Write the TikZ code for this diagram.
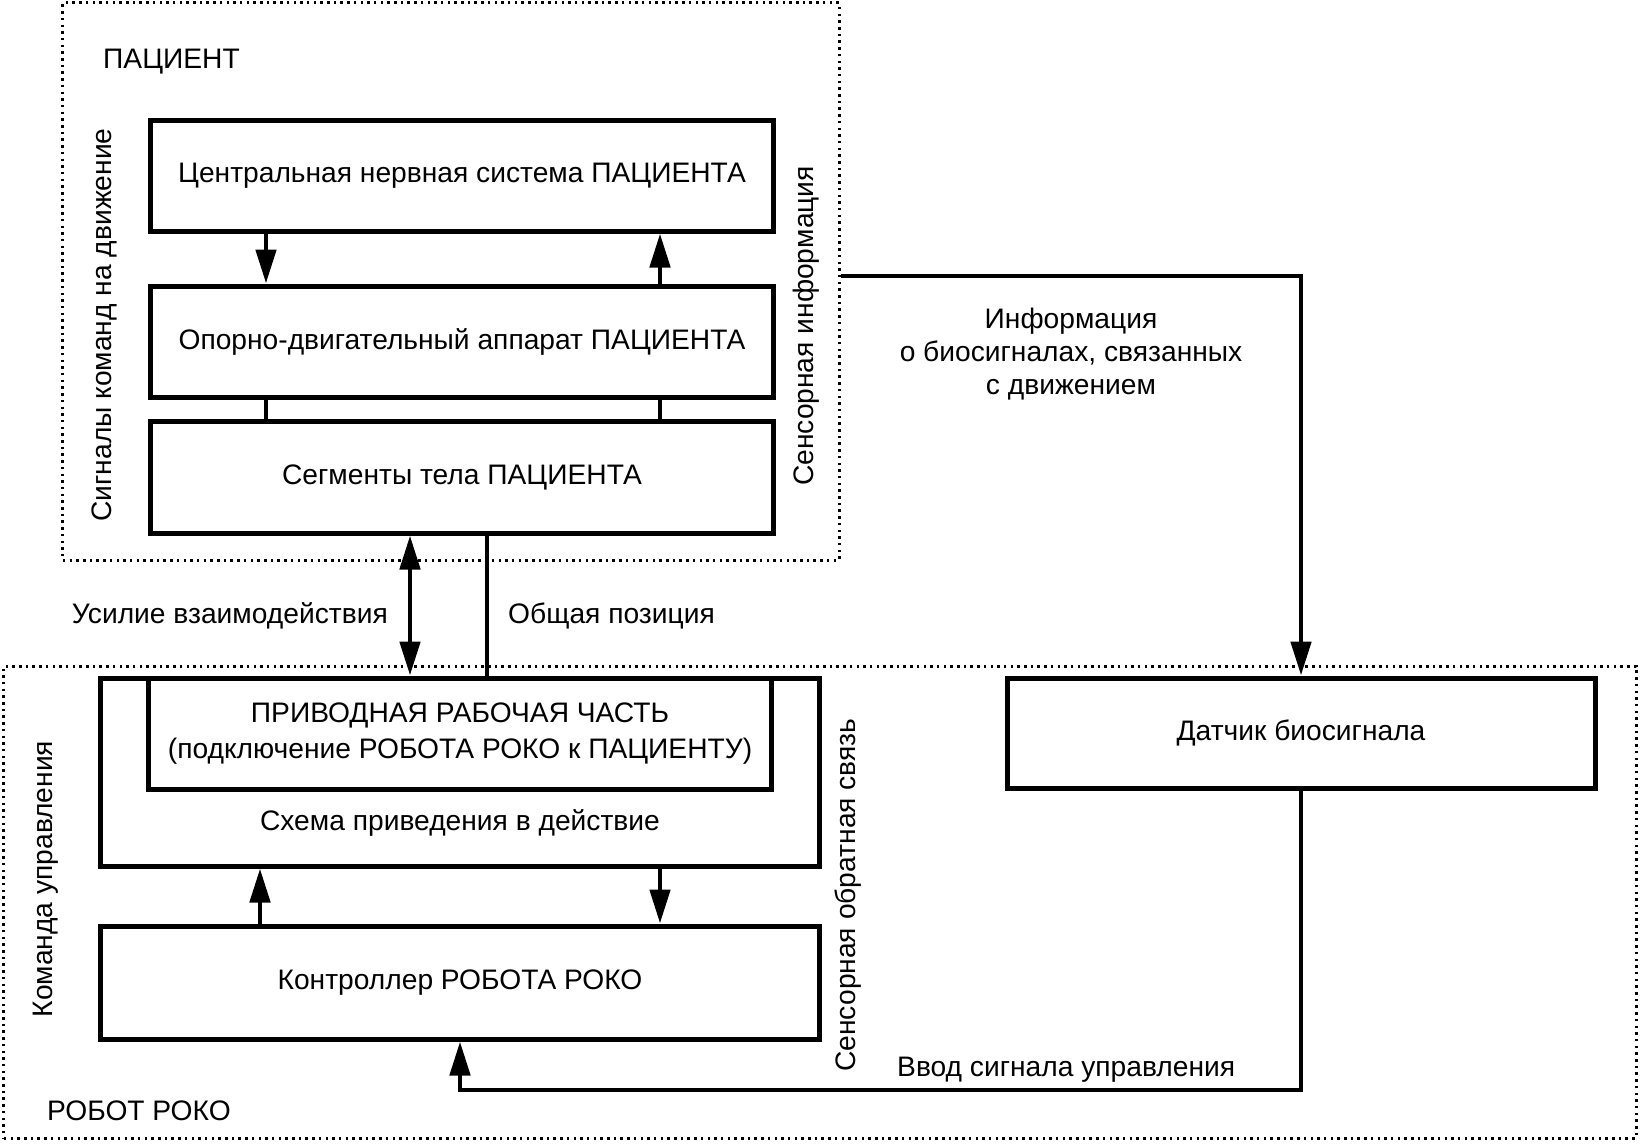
\documentclass[tikz,border=0pt]{standalone}
\usepackage{fontspec}
\setmainfont{Liberation Sans}
\usetikzlibrary{arrows.meta}
\begin{document}
\begin{tikzpicture}[x=1bp,y=-1bp,
  every node/.style={font=\fontsize{28.3}{33}\selectfont, inner sep=0pt},
  box/.style={draw, line width=5bp, rectangle},
  dotbox/.style={draw, line width=3bp, dash pattern=on 2.5bp off 4.2bp, rectangle},
  conn/.style={line width=4.8bp},
  arr/.style={conn, -{Triangle[length=34bp,width=20bp]}},
  darr/.style={conn, {Triangle[length=34bp,width=20bp]}-{Triangle[length=34bp,width=20bp]}}]
\useasboundingbox (0,0) rectangle (1642,1144);
\fill[white] (0,0) rectangle (1642,1144);

% dotted frames
\node[dotbox, minimum width=776bp, minimum height=557bp] (pat) at (451,281.5) {};
\node[dotbox, minimum width=1632bp, minimum height=472bp] (rob) at (820,902) {};

% patient boxes
\node[box, minimum width=622bp, minimum height=111bp] (cns) at (462,175.5) {Центральная нервная система ПАЦИЕНТА};
\node[box, minimum width=622bp, minimum height=111bp] (oms) at (462,341.5) {Опорно-двигательный аппарат ПАЦИЕНТА};
\node[box, minimum width=622bp, minimum height=112bp] (seg) at (462,477) {Сегменты тела ПАЦИЕНТА};

% robot boxes
\node[box, minimum width=718bp, minimum height=188bp] (drv) at (460,772) {};
\node[box, minimum width=622bp, minimum height=111bp, align=center, font=\fontsize{28.3}{37}\selectfont] (prc) at (460,733.5) {ПРИВОДНАЯ РАБОЧАЯ ЧАСТЬ\\(подключение РОБОТА РОКО к ПАЦИЕНТУ)};
\node (tact) at (460,823) {Схема приведения в действие};
\node[box, minimum width=718bp, minimum height=113bp] (ctl) at (460,982.5) {Контроллер РОБОТА РОКО};
\node[box, minimum width=588bp, minimum height=110bp] (dat) at (1301,733) {Датчик биосигнала};

% helper coordinates
\coordinate (xa) at (266,0);
\coordinate (xb) at (660,0);
\coordinate (xc) at (410,0);
\coordinate (xd) at (487,0);
\coordinate (xe) at (260,0);
\coordinate (ys) at (0,276);
\coordinate (cin) at (460,1090);

% connectors
\draw[arr] (cns.south -| xa) -- (oms.north -| xa);
\draw[arr] (oms.north -| xb) -- (cns.south -| xb);
\draw[conn] (oms.south -| xa) -- (seg.north -| xa);
\draw[conn] (oms.south -| xb) -- (seg.north -| xb);
\draw[darr] (seg.south -| xc) -- (drv.north -| xc);
\draw[conn] (seg.south -| xd) -- (drv.north -| xd);
\draw[arr] (ctl.north -| xe) -- (drv.south -| xe);
\draw[arr] (drv.south -| xb) -- (ctl.north -| xb);
\draw[arr] (ys -| pat.east) -| (dat.north);
\draw[arr] (dat.south) |- (cin) -- (ctl.south);

% labels
\node[anchor=base west] (tpat) at (103,68) {ПАЦИЕНТ};
\node[anchor=base west] (trob) at (47,1120) {РОБОТ РОКО};
\node[rotate=90] (tsig) at (104,325) {Сигналы команд на движение};
\node[rotate=90] (tsens) at (806,326) {Сенсорная информация};
\node[rotate=90] (tcmd) at (46,879) {Команда управления};
\node[rotate=90] (tfb) at (848,895) {Сенсорная обратная связь};
\node[anchor=base east] (tforce) at (388,623) {Усилие взаимодействия};
\node[anchor=base west] (tpos) at (508,623) {Общая позиция};
\node[anchor=base west] (tin) at (897,1076) {Ввод сигнала управления};
\node[align=center] (tinfo) at (1071,354) {Информация\\о биосигналах, связанных\\с движением};
\end{tikzpicture}
\end{document}
